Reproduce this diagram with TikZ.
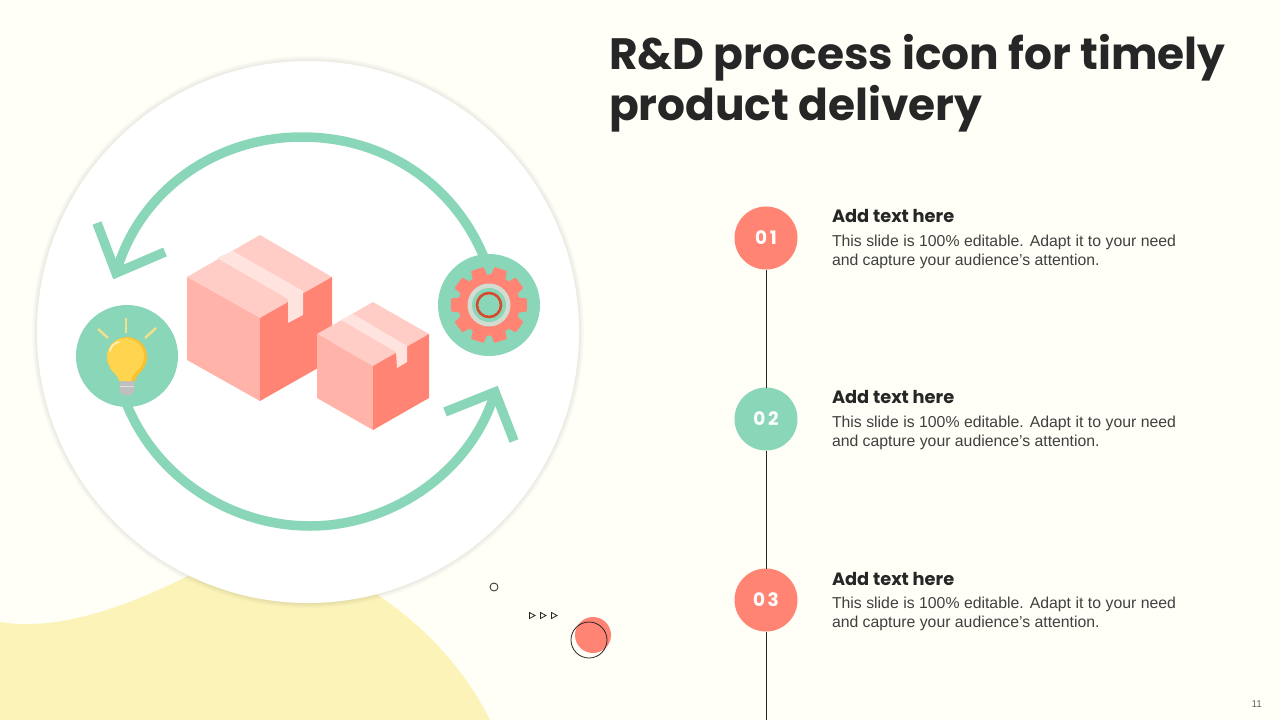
\documentclass[tikz,border=0pt]{standalone}
\usepackage{fontspec}
\setmainfont{Liberation Sans}
\newfontfamily\headfont{Poppins}
\definecolor{bgc}{HTML}{FFFEF7}
\definecolor{blob}{HTML}{FBF3B8}
\definecolor{mint}{HTML}{8AD6B8}
\definecolor{coral}{HTML}{FF8473}
\definecolor{boxl}{HTML}{FFB3A9}
\definecolor{boxt}{HTML}{FFCDC6}
\definecolor{tapec}{HTML}{FFE3DF}
\definecolor{ink}{HTML}{262626}
\definecolor{bodyc}{HTML}{404040}
\definecolor{rayc}{HTML}{F4E08C}
\definecolor{bulbd}{HTML}{FBC02D}
\definecolor{bulbl}{HTML}{FFD54F}
\definecolor{gearring}{HTML}{D3DCD0}
\definecolor{gearred}{HTML}{D9482B}
\tikzset{
  x=1pt,y=-1pt,
  every node/.style={inner sep=0pt,outer sep=0pt},
  ringarc/.style={draw=mint,line width=9.5pt},
  headv/.style={draw=mint,line width=9.5pt,miter limit=10},
  stepdot/.style={circle,minimum size=63pt,text=white,font=\headfont\bfseries\fontsize{18.5}{18}\selectfont\addfontfeatures{LetterSpace=14}},
  titletxt/.style={anchor=base west,text=ink,font=\headfont\bfseries\fontsize{43.9}{44}\selectfont},
  headtxt/.style={anchor=base west,text=ink,font=\headfont\bfseries\fontsize{17.8}{18}\selectfont},
  bodytxt/.style={anchor=base west,text=bodyc,font=\fontsize{15.8}{16}\selectfont},
  ray/.style={draw=rayc,line width=2.4pt},
  tri/.style={draw=ink,line width=.8pt,fill=none},
  timeline/.style={draw=ink,line width=1pt},
}
\newcommand{\bodyline}{\hbox to 344pt{This slide is 100\% editable. Adapt it to your need}}
\newcommand{\numtxt}[1]{\raisebox{-2pt}{#1}}
\begin{document}
\begin{tikzpicture}
\useasboundingbox (0,0) rectangle (1280,720);
\fill[bgc] (0,0) rectangle (1280,720);
% yellow blob
\fill[blob] (0,622) .. controls (60,632) and (130,605) .. (190,575) -- (370,590)
  .. controls (425,625) and (465,670) .. (490,720) -- (0,720) -- cycle;
% white disc with soft shadow
\foreach \r in {276,275,274,273,272}{\fill[black,opacity=.014] (308,332) circle[radius=\r];}
\node[circle,fill=white,minimum size=542pt] (disc) at (308,332) {};
% cycle arrows
\coordinate (gearEnd) at (487,265);
\coordinate (topMid) at (302,137);
\coordinate (topTip) at (116,273);
\coordinate (topA) at (97,223);
\coordinate (topB) at (165,252);
\coordinate (bulbEnd) at (127,405);
\coordinate (botMid) at (310,526);
\coordinate (botTip) at (495,392);
\coordinate (botA) at (445,412);
\coordinate (botB) at (514,441);
\draw[ringarc] (gearEnd) .. controls (458,186) and (386,137) .. (topMid)
  .. controls (215,137) and (139,191) .. (topTip);
\draw[headv] (topA) -- (topTip) -- (topB);
\draw[ringarc] (bulbEnd) .. controls (157,478) and (231,526) .. (botMid)
  .. controls (394,526) and (473,469) .. (botTip);
\draw[headv] (botA) -- (botTip) -- (botB);
% big box
\fill[boxt] (260,235) -- (332,277) -- (260,318) -- (187,277) -- cycle;
\fill[boxl] (187,277) -- (260,318) -- (260,401) -- (187,360) -- cycle;
\fill[coral] (332,277) -- (260,318) -- (260,401) -- (332,360) -- cycle;
\fill[tapec] (217,258) -- (233,251) -- (303,291) -- (288,299) -- cycle;
\fill[tapec] (288,299) -- (303,291) -- (303,315) -- (288,323) -- cycle;
% small box
\fill[boxt] (373,302) -- (429,334) -- (373,366) -- (317,334) -- cycle;
\fill[boxl] (317,334) -- (373,366) -- (373,430) -- (317,398) -- cycle;
\fill[coral] (429,334) -- (373,366) -- (373,430) -- (429,398) -- cycle;
\fill[tapec] (341,320) -- (353,314) -- (407,346) -- (396,352) -- cycle;
\fill[tapec] (396,352) -- (407,346) -- (407,362) -- (397,368) -- cycle;
% gear badge
\node[circle,fill=mint,minimum size=102pt] (gear) at (489,305) {};
\begin{scope}[shift={(489,305)}]
\fill[coral,draw=coral,line width=1.5pt,line join=round] (-13:30) \foreach \a in {0,36,...,324}{ -- (\a-13:30) -- (\a-9:37.500) -- (\a+9:37.500) -- (\a+13:30) -- (\a+23:30)} -- cycle;
\fill[gearring] (0,0) circle[radius=21.5];
\fill[mint] (0,0) circle[radius=17];
\draw[draw=gearred,line width=2.6pt,fill=none] (0,0) circle[radius=12];
\end{scope}
% bulb badge
\node[circle,fill=mint,minimum size=102pt] (bulb) at (127,356) {};
\draw[ray] (126,318) -- (126,333);
\draw[ray] (98,329) -- (108,338);
\draw[ray] (156,328) -- (145,338);
\fill[black!25] (120,380) -- (134,380) -- (134.5,391) -- (131,395) -- (123,395) -- (119.500,391) -- cycle;
\draw[black!12,line width=.8pt] (120,386) -- (134,386);
\fill[bulbd] (127,357) circle[radius=20];
\fill[bulbd] (111,369) .. controls (114,373) and (118,376) .. (119.500,381) -- (135,381) .. controls (136,376) and (140,373) .. (143,369) -- cycle;
\fill[bulbl] (125.500,356.500) circle[radius=18.5];
\fill[bulbl] (110,368) .. controls (114,373) and (118,376) .. (119.500,381) -- (131,381) .. controls (132,376) and (136,372) .. (139,368) -- cycle;
\draw[white!75!bulbl,line width=1.3pt,line cap=round] (110,351) .. controls (111,346) and (114,343) .. (119,342);
% decorations
\node[circle,draw=ink,line width=.8pt,minimum size=8pt] (dotc) at (494,587) {};
\draw[tri] (529.500,612.500) -- (535,615.500) -- (529.500,618.500) -- cycle;
\draw[tri] (540.500,612.500) -- (546,615.500) -- (540.500,618.500) -- cycle;
\draw[tri] (551.500,612.500) -- (557,615.500) -- (551.500,618.500) -- cycle;
\node[circle,fill=coral,minimum size=36pt] (spot) at (593,635) {};
\node[circle,draw=ink,line width=.8pt,minimum size=36pt] (ringc) at (589,640) {};
% timeline
\node[stepdot,fill=coral] (n1) at (766,238) {\numtxt{01}};
\node[stepdot,fill=mint] (n2) at (766,419) {\numtxt{02}};
\node[stepdot,fill=coral] (n3) at (766,600) {\numtxt{03}};
\coordinate (lineEnd) at (766,720);
\draw[timeline] (n1) -- (n2);
\draw[timeline] (n2) -- (n3);
\draw[timeline] (n3) -- (lineEnd);
% texts
\node[titletxt] (t1) at (609,69) {R\&D process icon for timely};
\node[titletxt] (t2) at (609,120.500) {product delivery};
\node[headtxt] (h1) at (832,222.500) {Add text here};
\node[bodytxt] (b1a) at (832,246) {\bodyline};
\node[bodytxt] (b1b) at (832,265) {and capture your audience’s attention.};
\node[headtxt] (h2) at (832,403.500) {Add text here};
\node[bodytxt] (b2a) at (832,427) {\bodyline};
\node[bodytxt] (b2b) at (832,446) {and capture your audience’s attention.};
\node[headtxt] (h3) at (832,585.500) {Add text here};
\node[bodytxt] (b3a) at (832,608) {\bodyline};
\node[bodytxt] (b3b) at (832,627) {and capture your audience’s attention.};
\node[anchor=base east,text=bodyc!80!white,font=\fontsize{10}{10}\selectfont] (pg) at (1262,707) {11};
\end{tikzpicture}
\end{document}
